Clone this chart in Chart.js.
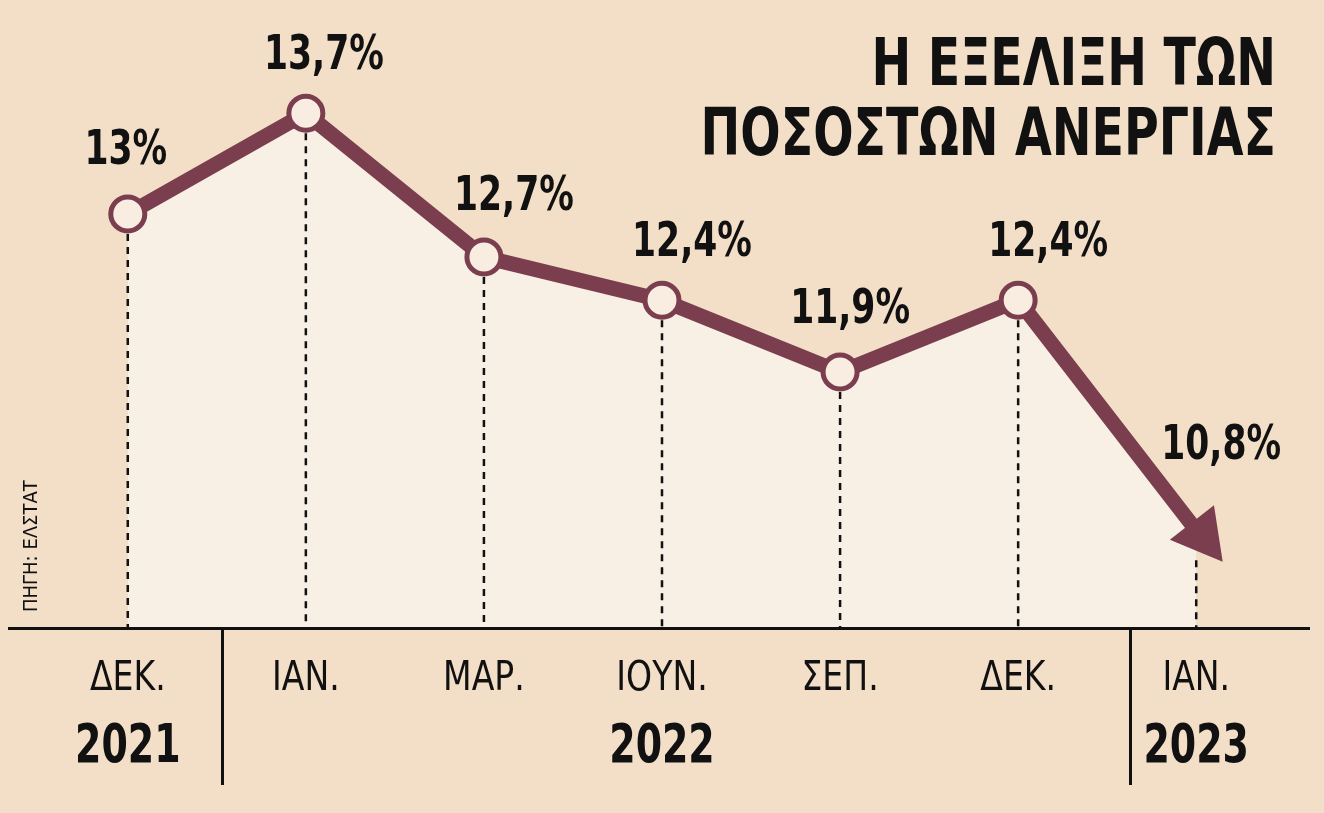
<!DOCTYPE html>
<html><head><meta charset="utf-8">
<script src="https://cdn.jsdelivr.net/npm/chart.js@4/dist/chart.umd.min.js"></script>
<style>html,body{margin:0;padding:0;background:#f3dfc8;}#w{width:1324px;height:813px;position:relative}</style>
</head><body><div id="w"><canvas id="c"></canvas></div>
<script>
const months = ['ΔΕΚ.','ΙΑΝ.','ΜΑΡ.','ΙΟΥΝ.','ΣΕΠ.','ΔΕΚ.','ΙΑΝ.'];
const values = [13.0, 13.7, 12.7, 12.4, 11.9, 12.4, 10.8];
const valueLabels = ['13%','13,7%','12,7%','12,4%','11,9%','12,4%','10,8%'];
const years = [{t:'2021',from:0,to:0},{t:'2022',from:1,to:5},{t:'2023',from:6,to:6}];
const titleLines = ['Η ΕΞΕΛΙΞΗ ΤΩΝ','ΠΟΣΟΣΤΩΝ ΑΝΕΡΓΙΑΣ'];
const source = 'ΠΗΓΗ: ΕΛΣΤΑΤ';
const FN = "'Liberation Sans Narrow','DejaVu Sans Condensed',sans-serif";
const LC = '#7a3e4e';
const labOff = [[-2,-62],[18,-57],[30,-60],[30,-57],[10,-62],[30,-57],[25,0]];

function sText(ctx,t,x,y,sx){ctx.save();ctx.translate(x,y);ctx.scale(sx,1);ctx.fillText(t,0,0);ctx.restore();}

const deco = {
  id:'deco',
  afterDatasetsDraw(ch){
    const {ctx,scales:{x,y},chartArea:a}=ch;
    ctx.save();
    ctx.strokeStyle='#111';ctx.lineWidth=2.5;ctx.setLineDash([7,6]);
    values.forEach((v,i)=>{const px=x.getPixelForValue(i);ctx.beginPath();ctx.moveTo(px,y.getPixelForValue(v)+(i===values.length-1?30:20));ctx.lineTo(px,a.bottom);ctx.stroke();});
    ctx.setLineDash([]);
    const n=values.length-1;
    const x1=x.getPixelForValue(n-1),y1=y.getPixelForValue(values[n-1]);
    const x2=x.getPixelForValue(n)+8,y2=y.getPixelForValue(values[n])+8;
    const ang=Math.atan2(y2-y1,x2-x1);
    const tx=x2+Math.cos(ang)*30,ty=y2+Math.sin(ang)*30;
    ctx.fillStyle=LC;ctx.beginPath();
    ctx.moveTo(tx,ty);
    ctx.lineTo(x2-Math.cos(ang)*20+Math.cos(ang+Math.PI/2)*28,y2-Math.sin(ang)*20+Math.sin(ang+Math.PI/2)*28);
    ctx.lineTo(x2-Math.cos(ang)*20-Math.cos(ang+Math.PI/2)*28,y2-Math.sin(ang)*20-Math.sin(ang+Math.PI/2)*28);
    ctx.closePath();ctx.fill();
    ctx.fillStyle='#111';ctx.fillRect(8,a.bottom-1,1302,3);
    ctx.fillRect(221,a.bottom,3,157);ctx.fillRect(1129,a.bottom,3,157);
    ctx.textAlign='center';ctx.textBaseline='middle';
    ctx.font="bold 48px "+FN;
    values.forEach((v,i)=>{
      let px=x.getPixelForValue(i)+labOff[i][0],py=y.getPixelForValue(v)+labOff[i][1];
      if(i===n){py=447;}
      sText(ctx,valueLabels[i],px,py,0.8);
    });
    ctx.font="40px "+FN;
    months.forEach((m,i)=>sText(ctx,m,x.getPixelForValue(i),680,0.92));
    ctx.font="bold 54px "+FN;
    years.forEach(yr=>{const px=(x.getPixelForValue(yr.from)+x.getPixelForValue(yr.to))/2;sText(ctx,yr.t,px,748,0.78);});
    ctx.textAlign='right';ctx.font="bold 66px "+FN;
    sText(ctx,titleLines[0],1276,68,0.8);sText(ctx,titleLines[1],1276,138,0.8);
    ctx.translate(32,612);ctx.rotate(-Math.PI/2);ctx.textAlign='left';ctx.font="20px "+FN;ctx.fillText(source,0,0);
    ctx.restore();
  }
};

new Chart(document.getElementById('c'),{
  type:'line',
  data:{datasets:[{
    data:values.map((v,i)=>({x:i,y:v})),
    borderColor:LC,borderWidth:15,
    fill:'start',backgroundColor:'#f8efe5',
    pointRadius:(c)=>c.dataIndex===values.length-1?0:17,
    pointBackgroundColor:'#f9ece0',pointBorderColor:LC,pointBorderWidth:5,
    tension:0
  }]},
  options:{
    responsive:true,maintainAspectRatio:false,animation:false,devicePixelRatio:1,
    layout:{padding:{left:2,right:6,top:0,bottom:185}},
    plugins:{legend:{display:false},tooltip:{enabled:false}},
    scales:{
      x:{type:'linear',min:-0.594,max:6.594,display:false},
      y:{min:10.12,max:14.335,display:false}
    }
  },
  plugins:[deco]
});
</script></body></html>
